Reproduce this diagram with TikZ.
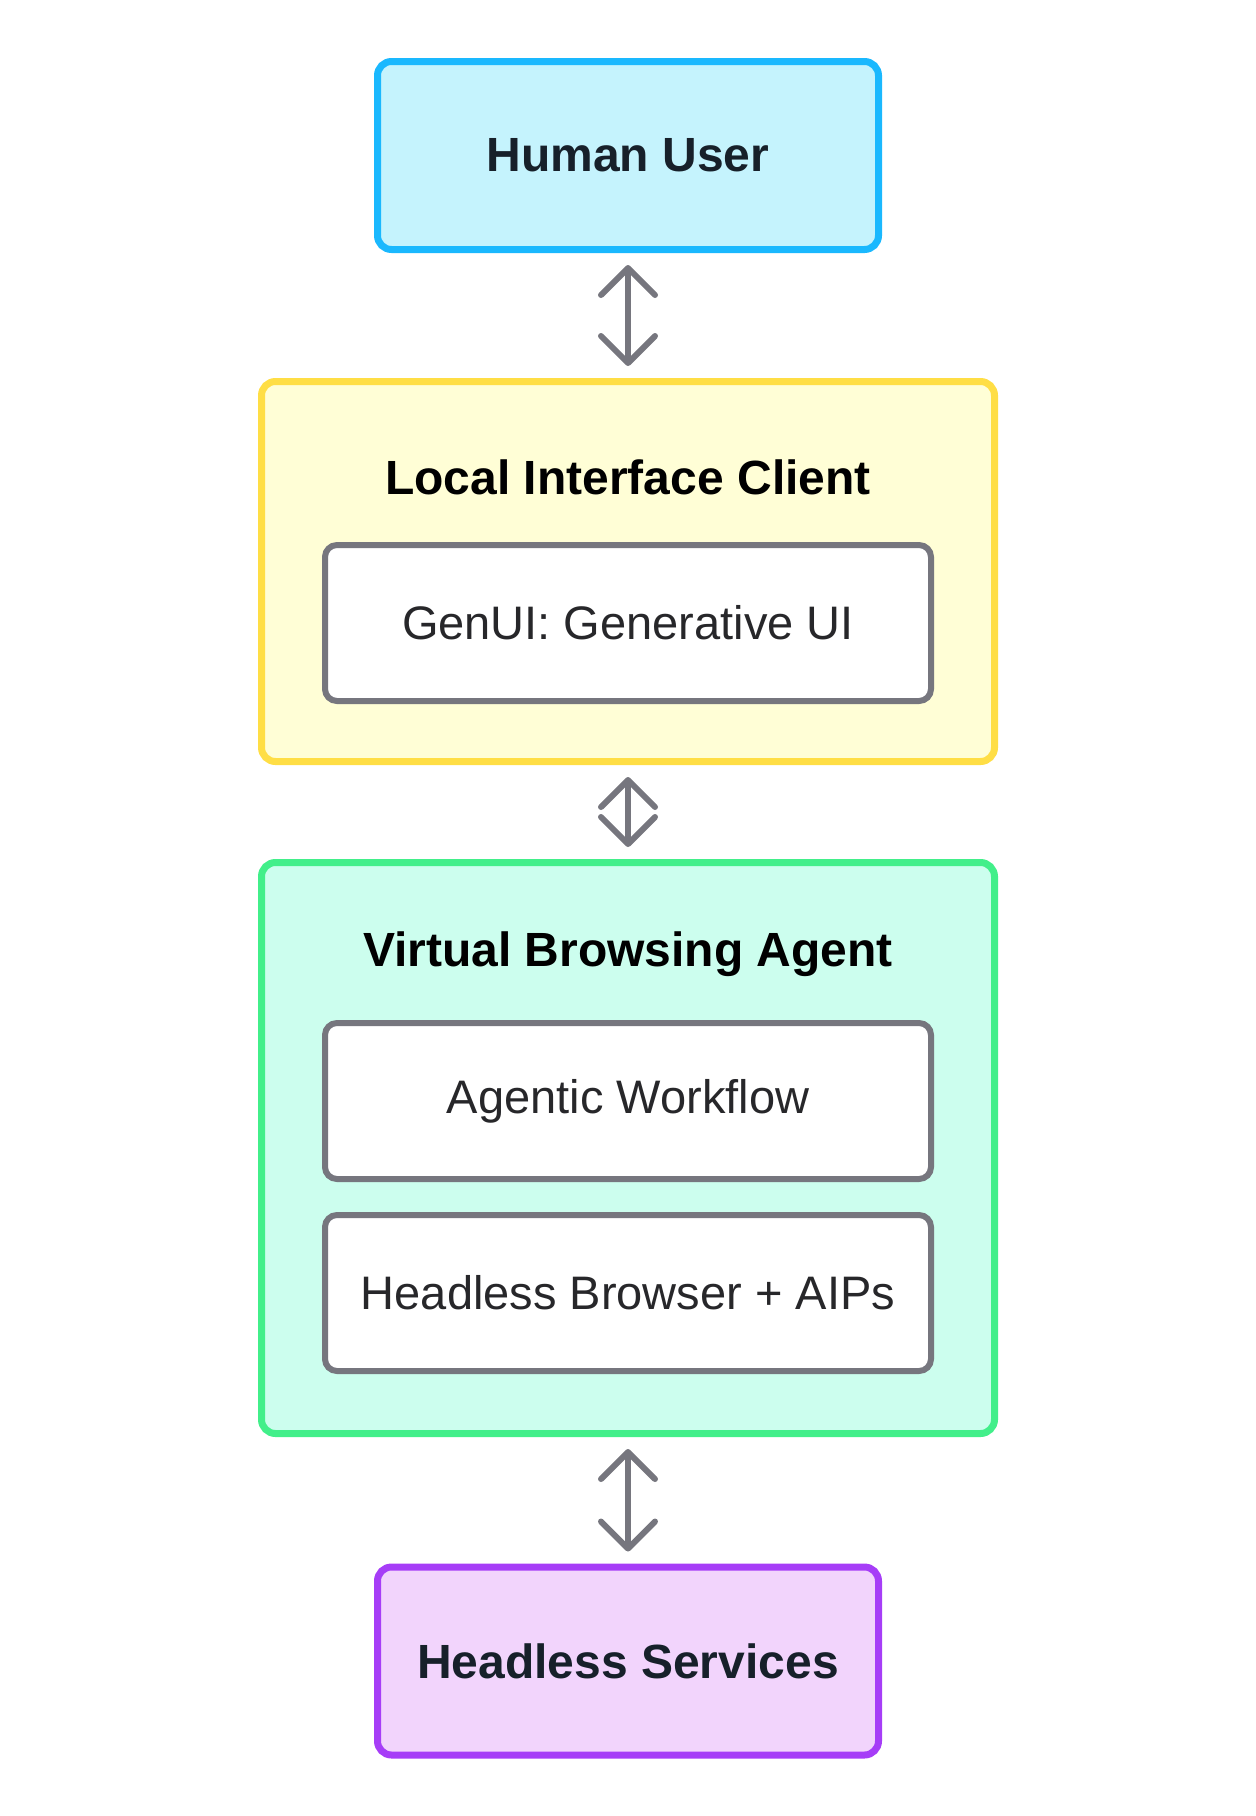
\documentclass[tikz,border=0pt]{standalone}
\usepackage{fontspec}
\setmainfont{Liberation Sans}
\usepackage{xcolor}
\usepackage{tikz}
\usetikzlibrary{positioning, arrows.meta}
\definecolor{userfill}{HTML}{C5F3FD}
\definecolor{userline}{HTML}{1AB8FE}
\definecolor{clientfill}{HTML}{FFFED6}
\definecolor{clientline}{HTML}{FFDE45}
\definecolor{agentfill}{HTML}{CCFEEE}
\definecolor{agentline}{HTML}{42EF8A}
\definecolor{svcfill}{HTML}{F2D4FC}
\definecolor{svcline}{HTML}{A63DF7}
\definecolor{edgegray}{HTML}{76767E}
\definecolor{inktext}{HTML}{17202A}
\definecolor{parttext}{HTML}{27272A}
\tikzset{
  endbox/.style    ={draw, rounded corners=7pt, line width=3.5pt, minimum width=250.5pt,
                     minimum height=94pt, font=\fontsize{24}{28}\selectfont\bfseries, text=inktext},
  group/.style     ={draw, rounded corners=7pt, line width=3.5pt, minimum width=366.5pt},
  grouptitle/.style={font=\fontsize{24}{28}\selectfont\bfseries, text=black},
  part/.style      ={draw=edgegray, fill=white, rounded corners=6pt, line width=3pt,
                     minimum width=303pt, minimum height=78pt,
                     font=\fontsize{23.5}{27}\selectfont, text=parttext},
  flowbi/.style    ={{Straight Barb[length=13.5pt,width=27pt,round]}-{Straight Barb[length=13.5pt,width=27pt,round]},
                     line width=3pt, draw=edgegray, shorten <=6pt, shorten >=6pt},
}

\begin{document}
\begin{tikzpicture}[x=0.5pt, y=-0.5pt]
  \useasboundingbox (0,0) rectangle (1256,1816);
  \node[endbox, fill=userfill, draw=userline] (HU) at (628,155.5) {Human User};
  \node[group, fill=clientfill, draw=clientline, minimum height=190pt] (LIC) at (628,571.5) {};
  \node[grouptitle] (LICT) at (628,477) {Local Interface Client};
  \node[part] (GEN) at (628,623) {GenUI: Generative UI};
  \node[group, fill=agentfill, draw=agentline, minimum height=285.5pt] (VBA) at (628,1148) {};
  \node[grouptitle] (VBAT) at (628,954) {Virtual Browsing Agent};
  \node[part] (AW) at (628,1101) {Agentic Workflow};
  \node[part] (HB) at (628,1293) {Headless Browser + AIPs};
  \node[endbox, fill=svcfill, draw=svcline] (HS) at (628,1661) {Headless Services};
  \draw[flowbi] (HU)  -- (LIC);
  \draw[flowbi] (LIC) -- (VBA);
  \draw[flowbi] (VBA) -- (HS);
\end{tikzpicture}
\end{document}
